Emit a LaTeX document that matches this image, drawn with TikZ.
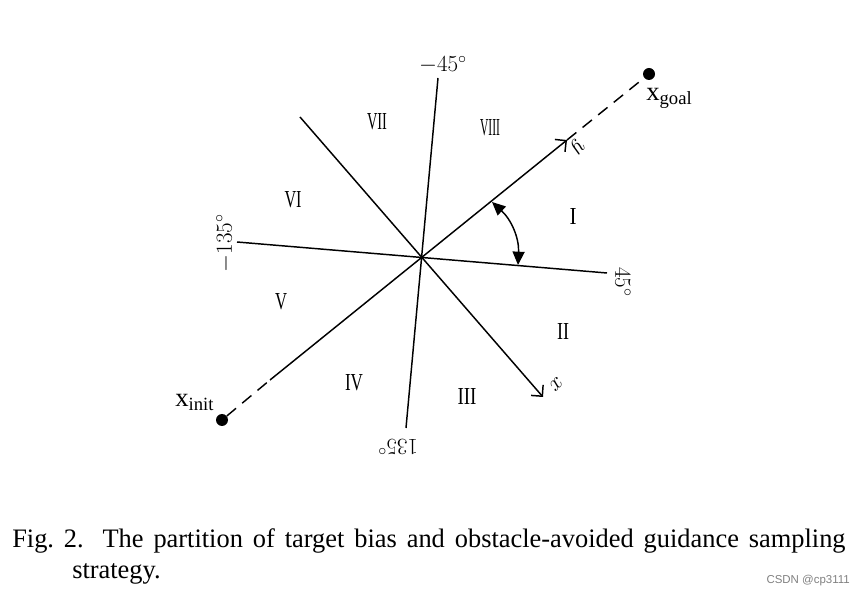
\documentclass[tikz,border=0pt]{standalone}
\usepackage[no-math]{fontspec}
\usepackage{graphicx}
\setmainfont{Liberation Serif}
\newfontfamily\capfont[FakeStretch=0.99]{Liberation Serif}
\newfontfamily\markfont{Liberation Sans}
\usetikzlibrary{arrows.meta}

\newlength\pxu
\setlength\pxu{0.75pt}
\newcommand\rnum[2]{\resizebox{#1\pxu}{12pt}{#2}}

\tikzset{
	axis/.style={line width=1.1pt},
	dot/.style={circle, fill, inner sep=0pt, minimum size=9pt},
	ang/.style={font=\fontsize{17}{17}\selectfont, inner sep=0pt},
	sector/.style={inner sep=0pt},
	tri/.tip={Triangle[length=10pt, width=9pt]}
}

\begin{document}
\begin{tikzpicture}[x=0.75pt, y=-0.75pt, >={Straight Barb[length=6pt, width=12pt]}]
		\useasboundingbox (0, 0) rectangle (865, 595);

		\coordinate (O) at (422, 258);
		\coordinate (ib) at (270, 380);
		\coordinate (ytip) at (567, 140);
		\coordinate (xtail) at (300, 117);
		\coordinate (xtip) at (543, 397);
		\coordinate (m45) at (438, 78);
		\coordinate (p135) at (406, 428);
		\coordinate (m135) at (237, 242);
		\coordinate (p45) at (607, 273);
		\coordinate (a1) at (492, 202);
		\coordinate (a2) at (518, 265);

		\node[dot] (goal) at (649, 74) {};
		\node[dot] (init) at (222, 420) {};

		% axes
		\draw[axis, ->] (ib) -- (ytip);
		\draw[axis, ->] (xtail) -- (xtip);
		\draw[axis] (m45) -- (p135);
		\draw[axis] (m135) -- (p45);
		\draw[axis, dash pattern=on 9pt off 6pt] (ytip) -- (goal);
		\draw[axis, dash pattern=on 9pt off 6pt] (init) -- (ib);
		\draw[axis, tri-tri] (a1) to[bend left=25] (a2);

		% angle labels
		\node[ang] (lm45) at (443, 65) {$-45^\circ$};
		\node[ang, rotate=90] (lm135) at (225, 243) {$-135^\circ$};
		\node[ang, rotate=-90] (lp45) at (623, 282) {$45^\circ$};
		\node[ang, rotate=180] (lp135) at (398, 447) {$135^\circ$};
		\node[ang, rotate=-135] (lx) at (556, 385) {$x$};
		\node[ang, rotate=-130] (ly) at (577, 147) {$y$};

		% sectors
		\node[sector] (s1) at (573, 217) {\rnum{7}{I}};
		\node[sector] (s2) at (563, 332) {\rnum{12}{II}};
		\node[sector] (s3) at (467, 397) {\rnum{19}{III}};
		\node[sector] (s4) at (354, 383) {\rnum{18}{IV}};
		\node[sector] (s5) at (281, 302) {\rnum{12}{V}};
		\node[sector] (s6) at (293, 200) {\rnum{17}{VI}};
		\node[sector] (s7) at (377, 122) {\rnum{20}{VII}};
		\node[sector] (s8) at (490, 128) {\rnum{20}{VIII}};

		% end points
		\node[anchor=base west, inner sep=0pt] (lgoal) at (646, 101)
			{\fontsize{20}{20}\selectfont x\raisebox{-2.5pt}{\fontsize{14}{14}\selectfont goal}};
		\node[anchor=base west, inner sep=0pt] (linit) at (175, 407)
			{\fontsize{20}{20}\selectfont x\raisebox{-2.5pt}{\fontsize{14}{14}\selectfont init}};

		% caption
		\node[anchor=base west, inner sep=0pt] (cap1) at (12, 547)
			{\capfont\fontsize{20}{20}\selectfont\makebox[625pt][s]{Fig.~2. The partition of target bias and obstacle-avoided guidance sampling}};
		\node[anchor=base west, inner sep=0pt] (cap2) at (72, 578)
			{\capfont\fontsize{20}{20}\selectfont strategy.};
		\node[anchor=base east, inner sep=0pt, text=gray] (mark) at (850, 584)
			{\markfont\fontsize{8.6}{8.6}\selectfont CSDN @cp3111};
	\end{tikzpicture}
\end{document}
